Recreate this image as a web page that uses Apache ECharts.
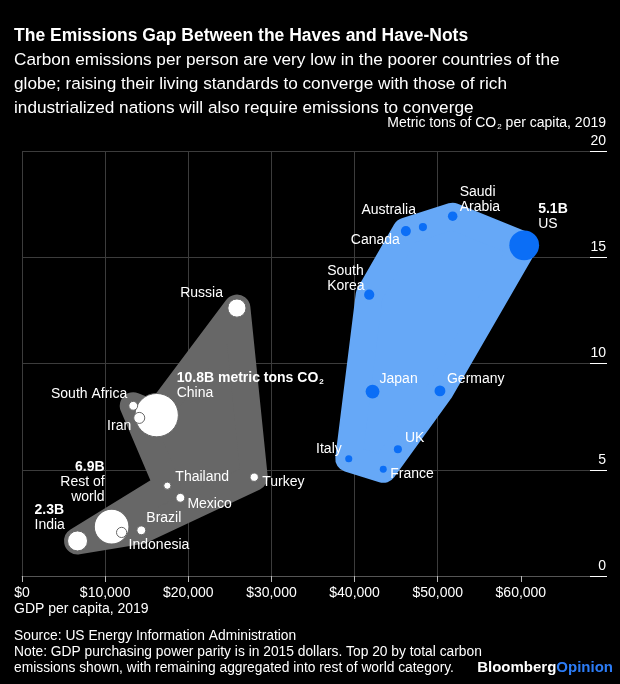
<!DOCTYPE html>
<html>
<head>
<meta charset="utf-8">
<script src="https://cdn.jsdelivr.net/npm/echarts@6/dist/echarts.min.js"></script>
<style>
  html, body { margin: 0; padding: 0; background: #000; }
  #main { width: 620px; height: 684px; }
</style>
</head>
<body>
<div id="main"></div>
<script>
// poorer / developing economies (grey group), biggest emitters first so small dots draw on top
var poorNames = ['China', 'Rest of world', 'India', 'Russia', 'Iran', 'Indonesia', 'South Africa', 'Mexico', 'Brazil', 'Turkey', 'Thailand'];
var poorGdp = [16200, 10780, 6680, 25850, 14100, 11980, 13380, 19050, 14350, 27930, 17480];
var poorCo2 = [7.57, 2.32, 1.65, 12.61, 7.44, 2.05, 8.01, 3.68, 2.15, 4.65, 4.25];
var poorTotal = [10.8, 6.9, 2.3, 1.9, 0.7, 0.6, 0.45, 0.45, 0.45, 0.4, 0.3]; // billion metric tons CO2

// rich industrialized nations (blue group)
var richNames = ['US', 'Japan', 'Germany', 'South Korea', 'Canada', 'Saudi Arabia', 'Australia', 'UK', 'Italy', 'France'];
var richGdp = [60400, 42160, 50270, 41760, 46170, 51800, 48220, 45210, 39300, 43450];
var richCo2 = [15.56, 8.68, 8.71, 13.24, 16.23, 16.93, 16.42, 5.96, 5.52, 5.02];
var richTotal = [5.1, 1.1, 0.68, 0.6, 0.58, 0.52, 0.38, 0.37, 0.29, 0.28];

// outline of each group (order of countries around the shape)
var poorHull = ['Russia', 'Turkey', 'Brazil', 'India', 'Thailand', 'South Africa', 'China'];
var richHull = ['Saudi Arabia', 'US', 'Germany', 'France', 'Italy', 'South Korea', 'Canada'];

var xTicks = [0, 10000, 20000, 30000, 40000, 50000, 60000];
var yTicks = [0, 5, 10, 15, 20];

var labeled = ['China', 'Rest of world', 'India', 'US']; // totals shown in bold
var labelText = { 'Saudi Arabia': 'Saudi\nArabia', 'South Korea': 'South\nKorea', 'Rest of world': 'Rest of\nworld' };

// label placement: dx, dy of first line centre from the dot, text alignment
var labelPos = {
  'Russia': [-14, -15, 'right'],
  'China': [20, -37, 'left'],
  'South Africa': [-6, -12, 'right'],
  'Iran': [-8, 8, 'right'],
  'Rest of world': [-7, -60, 'right'],
  'India': [-43, -31, 'left'],
  'Thailand': [8, -9, 'left'],
  'Mexico': [7, 6, 'left'],
  'Turkey': [8, 5, 'left'],
  'Brazil': [5, -12, 'left'],
  'Indonesia': [7, 13, 'left'],
  'Australia': [-7, -17, 'right'],
  'Canada': [-6, 9, 'right'],
  'Saudi Arabia': [7, -24, 'left'],
  'US': [14, -36, 'left'],
  'South Korea': [-42, -24, 'left'],
  'Japan': [7, -12, 'left'],
  'Germany': [7, -12, 'left'],
  'UK': [7, -11, 'left'],
  'Italy': [-7, -10, 'right'],
  'France': [7, 5, 'left']
};

var FONT = 'Liberation Sans, Arial, sans-serif';
var LH = 15;

function buildPoints(names, gdp, co2, total) {
  return names.map(function (n, i) {
    var p = labelPos[n];
    var lines = (labelText[n] || n).split('\n').length + (labeled.indexOf(n) >= 0 ? 1 : 0);
    var multi = lines > 1;
    return {
      name: n,
      value: [gdp[i], co2[i], total[i]],
      label: {
        offset: [p[0], multi ? p[1] - LH / 2 : p[1]],
        align: p[2],
        verticalAlign: multi ? 'top' : 'middle'
      }
    };
  });
}

function labelFormatter(params) {
  var n = params.name;
  var txt = labelText[n] || n;
  if (labeled.indexOf(n) >= 0) {
    var head = params.value[2].toFixed(1) + 'B';
    if (n === 'China') return '{b|' + head + ' metric tons CO}{bs|2}\n' + txt;
    return '{b|' + head + '}\n' + txt;
  }
  return txt;
}

function hullSeries(hull, names, gdp, co2, color) {
  return {
    type: 'custom',
    coordinateSystem: 'cartesian2d',
    silent: true,
    z: 1,
    data: [[0, 0]],
    renderItem: function (params, api) {
      var pts = hull.map(function (n) {
        var i = names.indexOf(n);
        return api.coord([gdp[i], co2[i]]);
      });
      return {
        type: 'polygon',
        shape: { points: pts },
        style: { fill: color, stroke: color, lineWidth: 27, lineJoin: 'round' }
      };
    }
  };
}

var labelBase = {
  show: true,
  position: 'inside',
  color: '#fff',
  fontSize: 14,
  lineHeight: LH,
  fontFamily: FONT,
  formatter: labelFormatter,
  rich: {
    b: { color: '#fff', fontSize: 14, fontWeight: 'bold', lineHeight: LH, fontFamily: FONT },
    bs: { color: '#fff', fontSize: 8, fontWeight: 'bold', lineHeight: LH, verticalAlign: 'bottom', padding: [6, 0, 0, 1], fontFamily: FONT }
  }
};

var chart = echarts.init(document.getElementById('main'));
chart.setOption({
  backgroundColor: '#000',
  animation: false,
  textStyle: { fontFamily: FONT },
  grid: { left: 22, right: 16, top: 151, bottom: 108 },
  xAxis: {
    type: 'value',
    min: 0,
    max: 70000,
    interval: 10000,
    axisLine: { show: true, onZero: false, lineStyle: { color: '#555' } },
    axisTick: { show: true, length: 6, customValues: xTicks, lineStyle: { color: '#bbb' } },
    axisLabel: {
      customValues: xTicks,
      color: '#fff',
      fontSize: 14,
      margin: 10,
      formatter: function (v) { return '$' + v.toLocaleString('en-US'); }
    },
    splitLine: { show: true, showMaxLine: false, lineStyle: { color: '#3c3c3c' } }
  },
  yAxis: {
    type: 'value',
    position: 'right',
    offset: 3,
    min: 0,
    max: 20,
    interval: 5,
    axisLine: { show: false, onZero: false },
    axisTick: { show: true, inside: true, length: 17, lineStyle: { color: '#fff' } },
    axisLabel: {
      inside: true,
      customValues: yTicks,
      color: '#fff',
      fontSize: 14,
      margin: 1,
      verticalAlign: 'bottom',
      padding: [0, 0, 3, 0]
    },
    splitLine: { show: true, lineStyle: { color: '#3c3c3c' } }
  },
  graphic: [
    { type: 'text', left: 14, top: 27, style: { text: 'The Emissions Gap Between the Haves and Have-Nots', fill: '#fff', font: 'bold 17.5px ' + FONT } },
    { type: 'text', left: 14, top: 48, style: {
      text: 'Carbon emissions per person are very low in the poorer countries of the\nglobe; raising their living standards to converge with those of rich\nindustrialized nations will also require emissions to converge',
      fill: '#fff', font: '17.2px ' + FONT, lineHeight: 24 } },
    { type: 'text', right: 14, top: 116, style: {
      text: '{a|Metric tons of CO}{s|2}{a| per capita, 2019}',
      rich: {
        a: { fill: '#fff', fontSize: 14, fontFamily: FONT, lineHeight: 16 },
        s: { fill: '#fff', fontSize: 8, fontFamily: FONT, lineHeight: 16, verticalAlign: 'bottom', padding: [6, 0, 0, 1] }
      } } },
    { type: 'text', left: 14, top: 602, style: { text: 'GDP per capita, 2019', fill: '#fff', font: '14px ' + FONT } },
    { type: 'text', left: 14, top: 628, style: {
      text: 'Source: US Energy Information Administration\nNote: GDP purchasing power parity is in 2015 dollars. Top 20 by total carbon\nemissions shown, with remaining aggregated into rest of world category.',
      fill: '#fff', font: '13.8px ' + FONT, lineHeight: 16 } },
    { type: 'text', right: 7, top: 660, style: {
      text: '{b|Bloomberg}{o|Opinion}',
      rich: {
        b: { fill: '#fff', fontSize: 15, fontWeight: 'bold', fontFamily: FONT },
        o: { fill: '#2c7cf6', fontSize: 15, fontWeight: 'bold', fontFamily: FONT }
      } } }
  ],
  series: [
    hullSeries(poorHull, poorNames, poorGdp, poorCo2, '#676767'),
    hullSeries(richHull, richNames, richGdp, richCo2, '#66a8f7'),
    {
      type: 'scatter',
      z: 3,
      symbolSize: function (v) { return 2 * 6.6 * Math.sqrt(v[2]); },
      itemStyle: { color: '#fff', borderColor: '#676767', borderWidth: 1, opacity: 1 },
      label: labelBase,
      data: buildPoints(poorNames, poorGdp, poorCo2, poorTotal)
    },
    {
      type: 'scatter',
      z: 3,
      symbolSize: function (v) { return 2 * 6.6 * Math.sqrt(v[2]); },
      itemStyle: { color: '#0b6ef6', opacity: 1 },
      label: labelBase,
      data: buildPoints(richNames, richGdp, richCo2, richTotal)
    }
  ]
});
</script>
</body>
</html>
